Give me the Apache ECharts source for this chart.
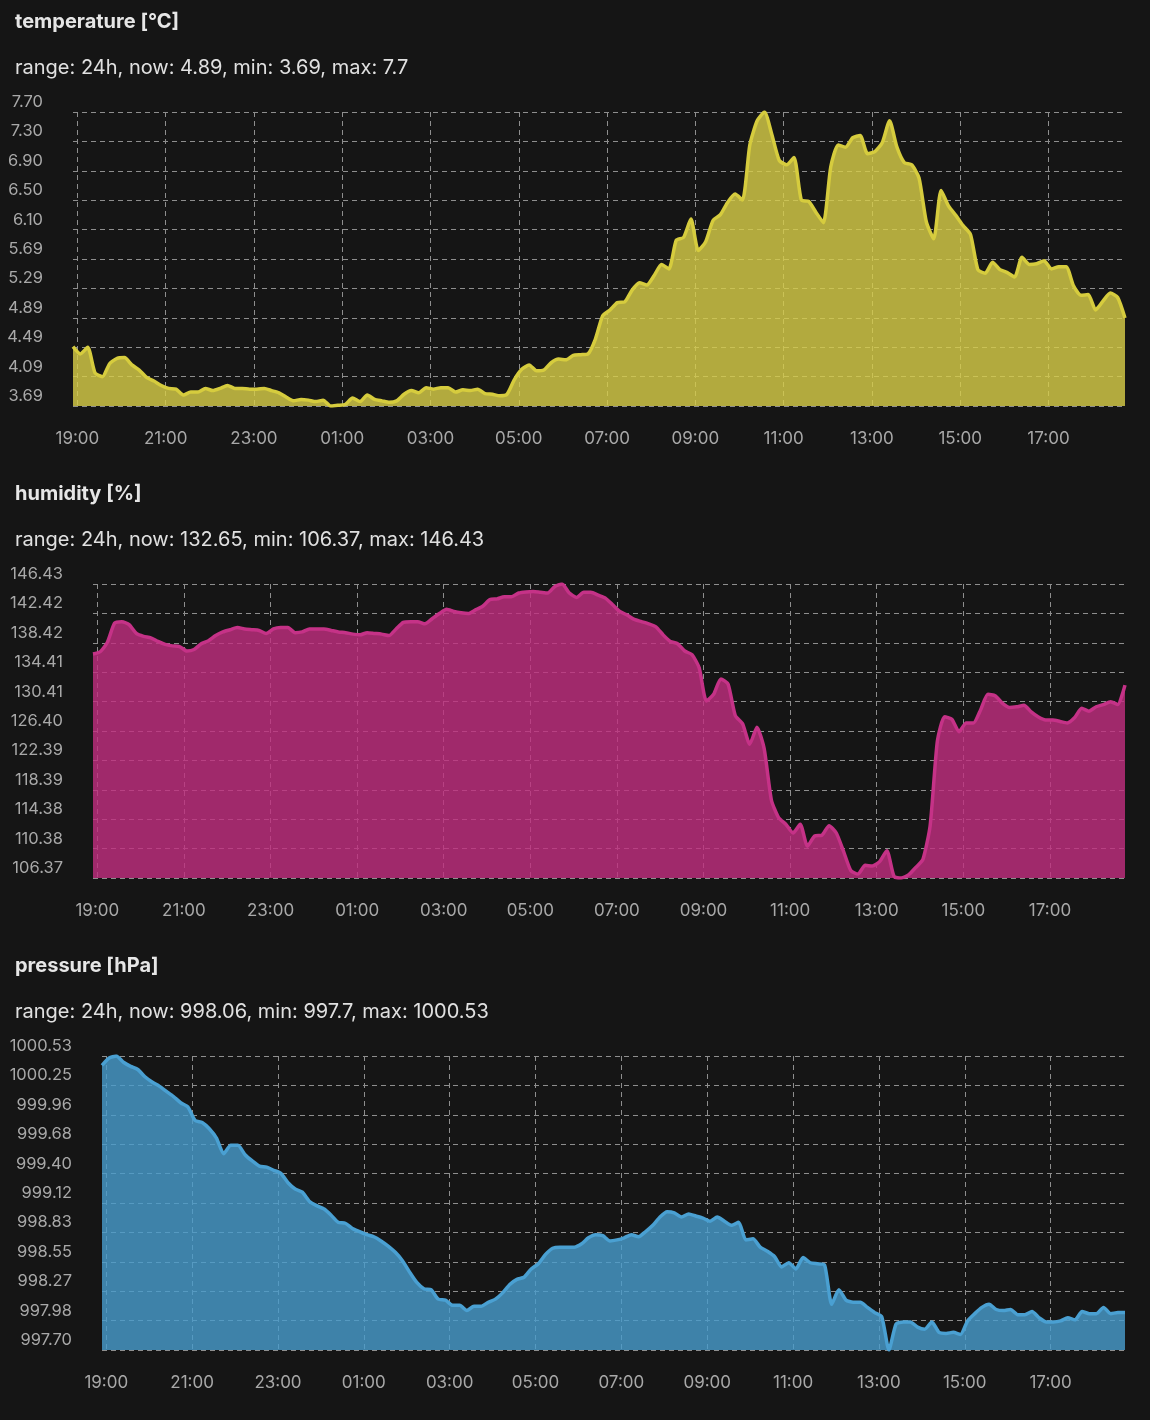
<!DOCTYPE html>
<html><head><meta charset="utf-8">
<script src="https://cdn.jsdelivr.net/npm/echarts@6/dist/echarts.min.js"></script>
<style>html,body{margin:0;padding:0;background:#151515;}#c{width:1150px;height:1420px;}</style>
</head><body><div id="c"></div>
<script>
// x axis: hours relative to 19:00, samples every 10 minutes starting 18:54
const xLabels = ['19:00','21:00','23:00','01:00','03:00','05:00','07:00','09:00','11:00','13:00','15:00','17:00'];
const xLabelHours = [0,2,4,6,8,10,12,14,16,18,20,22];
const startHour = -0.1;
const stepMinutes = 10;

const tempValues = [
4.50,4.40,4.49,4.14,4.09,4.27,4.34,4.35,4.25,4.18,
4.08,4.03,3.97,3.93,3.92,3.84,3.88,3.88,3.93,3.90,
3.93,3.97,3.93,3.93,3.92,3.92,3.93,3.90,3.87,3.81,
3.76,3.78,3.77,3.75,3.77,3.69,3.70,3.71,3.80,3.75,
3.84,3.78,3.76,3.74,3.76,3.85,3.90,3.87,3.94,3.92,
3.94,3.94,3.88,3.91,3.90,3.92,3.86,3.85,3.83,3.85,
4.05,4.19,4.25,4.17,4.18,4.28,4.33,4.32,4.38,4.39,
4.40,4.60,4.92,5.00,5.10,5.11,5.27,5.37,5.34,5.47,
5.62,5.56,5.95,5.99,6.24,5.81,5.93,6.22,6.30,6.47,
6.58,6.50,7.25,7.58,7.70,7.39,7.04,6.98,7.08,6.50,
6.48,6.33,6.19,6.95,7.25,7.22,7.35,7.38,7.13,7.16,
7.28,7.58,7.22,7.01,6.98,6.80,6.20,5.97,6.63,6.42,
6.29,6.15,6.03,5.55,5.50,5.65,5.55,5.51,5.45,5.72,
5.62,5.63,5.67,5.56,5.59,5.59,5.33,5.20,5.21,5.00,
5.12,5.23,5.17,4.89];

const humValues = [
136.9,137.2,138.5,141.1,141.3,140.9,139.7,139.3,139.1,138.6,
138.2,138.0,137.9,137.3,137.5,138.3,138.7,139.4,139.9,140.2,
140.5,140.3,140.2,140.1,139.7,140.3,140.5,140.5,139.8,139.9,
140.3,140.3,140.3,140.1,139.9,139.8,139.6,139.5,139.8,139.7,
139.6,139.4,140.3,141.2,141.3,141.3,141.0,141.7,142.4,143.0,
142.7,142.5,142.4,142.9,143.4,144.3,144.4,144.7,144.7,145.2,
145.35,145.4,145.3,145.2,146.1,146.43,145.2,144.6,145.3,145.3,
144.9,144.5,143.6,142.7,142.2,141.6,141.3,141.0,140.6,139.5,
138.6,138.3,137.3,136.8,135.0,130.5,131.4,133.5,132.8,128.5,
127.4,124.6,126.9,124.0,117.0,114.6,113.7,112.5,113.7,110.7,
112.1,112.2,113.5,112.5,110.0,107.4,106.9,108.1,108.0,108.6,
110.1,106.6,106.37,106.8,107.8,108.9,113.5,125.0,128.35,128.0,
126.3,127.5,127.5,129.3,131.4,131.2,130.2,129.6,129.7,129.9,
129.0,128.3,127.9,127.9,127.7,127.5,128.2,129.5,129.1,129.7,
130.0,130.4,130.0,132.65];

const presValues = [
1000.44,1000.51,1000.53,1000.47,1000.43,1000.40,1000.33,1000.28,1000.24,1000.19,
1000.14,1000.08,1000.04,999.91,999.89,999.83,999.74,999.59,999.67,999.67,
999.58,999.52,999.47,999.46,999.43,999.40,999.31,999.25,999.22,999.13,
999.09,999.06,999.00,998.93,998.92,998.87,998.84,998.81,998.79,998.75,
998.70,998.64,998.56,998.45,998.35,998.29,998.28,998.19,998.18,998.13,
998.13,998.08,998.12,998.12,998.16,998.19,998.25,998.33,998.38,998.40,
998.48,998.53,998.62,998.68,998.69,998.69,998.69,998.72,998.78,998.81,
998.80,998.75,998.76,998.78,998.81,998.79,998.84,998.90,998.98,999.03,
999.02,998.98,999.01,998.99,998.97,998.94,998.98,998.94,998.90,998.93,
998.76,998.77,998.69,998.65,998.60,998.50,998.54,998.48,998.59,998.54,
998.53,998.52,998.14,998.28,998.18,998.16,998.16,998.11,998.06,998.02,
997.70,997.95,997.97,997.97,997.92,997.90,997.97,997.87,997.86,997.87,
997.85,997.98,998.05,998.11,998.14,998.09,998.08,998.09,998.04,998.04,
998.07,998.01,997.97,997.97,997.98,998.01,997.99,998.07,998.05,998.05,
998.11,998.05,998.06,998.06];

const tempTicks = ['3.69','4.09','4.49','4.89','5.29','5.69','6.10','6.50','6.90','7.30','7.70'];
const humTicks  = ['106.37','110.38','114.38','118.39','122.39','126.40','130.41','134.41','138.42','142.42','146.43'];
const presTicks = ['997.70','997.98','998.27','998.55','998.83','999.12','999.40','999.68','999.96','1000.25','1000.53'];

const charts = [
  {title:'temperature [°C]', sub:'range: 24h, now: 4.89, min: 3.69, max: 7.7', values: tempValues, ticks: tempTicks,
   line:'#d6cc3e', area:'rgba(218,208,72,0.8)', left:73},
  {title:'humidity [%]', sub:'range: 24h, now: 132.65, min: 106.37, max: 146.43', values: humValues, ticks: humTicks,
   line:'#c53287', area:'rgba(195,46,129,0.8)', left:93},
  {title:'pressure [hPa]', sub:'range: 24h, now: 998.06, min: 997.7, max: 1000.53', values: presValues, ticks: presTicks,
   line:'#4aa0d2', area:'rgba(72,157,206,0.8)', left:102}
];

const FONT = 'Inter';
const gridColor = '#8e8e8e';
const labelColor = '#a8a8a8';
const blockH = 472;

const option = {backgroundColor:'#151515', animation:false, title:[], grid:[], xAxis:[], yAxis:[], series:[]};

charts.forEach((c, k) => {
  const off = k * blockH;
  option.title.push({left:15, top: 10 + off, padding:0, text: c.title,
    textStyle:{color:'#e6e6e6', fontFamily:FONT, fontSize:20, fontWeight:'bold', lineHeight:24}});
  option.title.push({left:15, top: 56 + off, padding:0, text: c.sub,
    textStyle:{color:'#e0e0e0', fontFamily:FONT, fontSize:20, fontWeight:'normal', lineHeight:24}});
  option.grid.push({left:c.left, right:25, top:112 + off, height:294});

  const n = c.values.length;
  const xMax = startHour + (n - 1) * stepMinutes / 60;
  option.xAxis.push({
    type:'value', gridIndex:k, min:startHour, max:xMax,
    axisLine:{show:false},
    axisTick:{show:false, customValues:xLabelHours},
    axisLabel:{customValues:xLabelHours, color:labelColor, fontFamily:FONT, fontSize:17, margin:24, lineHeight:18,
      formatter:(v) => { const idx = xLabelHours.indexOf(Math.round(v)); return idx >= 0 ? xLabels[idx] : ''; }},
    splitLine:{show:true, lineStyle:{color:gridColor, type:[5,4], width:1}}
  });

  const tv = c.ticks.map(Number);
  const yMin = tv[0], yMax = tv[tv.length - 1];
  const stepY = (yMax - yMin) / (tv.length - 1);
  const yPos = tv.map((_, i) => yMin + i * stepY);
  option.yAxis.push({
    type:'value', gridIndex:k, min:yMin, max:yMax,
    axisLine:{show:false},
    axisTick:{show:false, customValues:yPos},
    axisLabel:{customValues:yPos, color:labelColor, fontFamily:FONT, fontSize:16.5, margin:30,
      verticalAlign:'bottom', lineHeight:20,
      formatter:(v) => { let best = 0; yPos.forEach((p, i) => { if (Math.abs(p - v) < Math.abs(yPos[best] - v)) best = i; }); return c.ticks[best]; }},
    splitLine:{show:true, lineStyle:{color:gridColor, type:[5,4], width:1}}
  });

  option.series.push({
    type:'line', xAxisIndex:k, yAxisIndex:k, showSymbol:false, smooth:0.2,
    data: c.values.map((v, i) => [startHour + i * stepMinutes / 60, v]),
    lineStyle:{color:c.line, width:3.5},
    itemStyle:{color:c.line},
    areaStyle:{color:c.area, opacity:1, origin:'start'},
    clip:true
  });
});

const chart = echarts.init(document.getElementById('c'), null, {renderer:'canvas'});
chart.setOption(option);
</script>
</body></html>
